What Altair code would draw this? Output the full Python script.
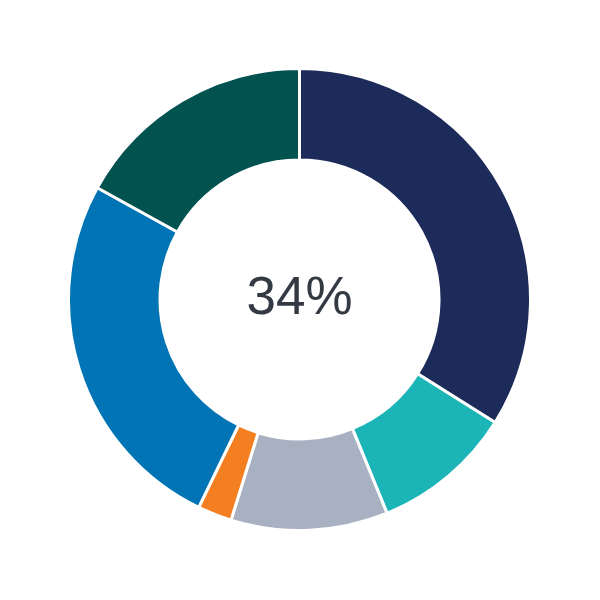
import altair as alt
import pandas as pd

segments = ["A", "B", "C", "D", "E", "F"]
values = [34, 9.9, 11, 2.4, 25.9, 17]
colors = ["#1c2b5a", "#1cb5b7", "#a8b1c1", "#f47f20", "#0074b4", "#02524f"]
center_label = "34%"

df = pd.DataFrame({"segment": segments, "value": values, "order": list(range(len(segments)))})

arc = alt.Chart(df).mark_arc(innerRadius=139.5, outerRadius=231, stroke="white", strokeWidth=3).encode(
    theta=alt.Theta("value:Q", stack=True),
    order=alt.Order("order:Q"),
    color=alt.Color("segment:N", scale=alt.Scale(domain=segments, range=colors), legend=None),
)

text = alt.Chart(pd.DataFrame({"t": [center_label]})).mark_text(
    fontSize=53, font="Liberation Sans", color="#333a44", baseline="middle", align="center", dy=-2
).encode(text="t:N")

chart = alt.layer(arc, text).properties(width=583, height=583, padding=0).configure_view(stroke=None)

chart.save("out.html", embed_options={"renderer": "svg", "actions": False})
